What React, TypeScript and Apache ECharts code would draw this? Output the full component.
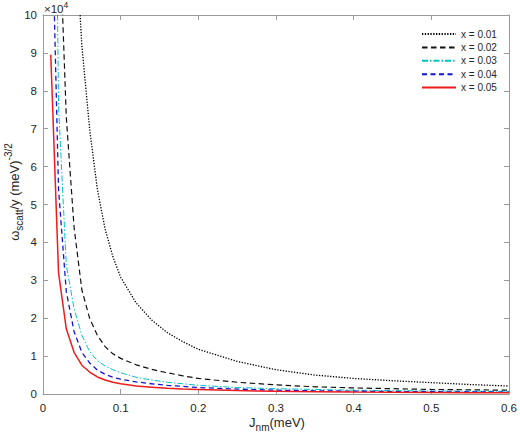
import React, { useEffect, useRef } from "react";
import * as echarts from "echarts";

// J_nm values (meV) at which the curves were read
const jValues = [0.01, 0.02, 0.03, 0.04, 0.05, 0.06, 0.07, 0.08, 0.09, 0.1, 0.12, 0.14, 0.16, 0.18, 0.2, 0.25, 0.3, 0.35, 0.4, 0.45, 0.5, 0.55, 0.6];

// omega_scatt / y in units of 1e4 (meV)^-3/2 ; null = not drawn (far above the plot)
const omegaX001 = [null, null, null, 12.8, 9.2, 7.0, 5.4, 4.35, 3.62, 3.08, 2.4, 1.95, 1.62, 1.38, 1.18, 0.86, 0.64, 0.5, 0.41, 0.35, 0.3, 0.25, 0.21];
const omegaX002 = [null, 13.0, 7.3, 4.4, 2.75, 2.0, 1.55, 1.25, 1.06, 0.94, 0.77, 0.65, 0.56, 0.48, 0.41, 0.31, 0.24, 0.19, 0.16, 0.14, 0.12, 0.11, 0.1];
const omegaX003 = [26.7, 7.6, 3.4, 2.25, 1.55, 1.12, 0.88, 0.74, 0.64, 0.56, 0.44, 0.37, 0.31, 0.27, 0.23, 0.17, 0.14, 0.12, 0.1, 0.09, 0.08, 0.075, 0.07];
const omegaX004 = [14.0, 5.4, 2.7, 1.65, 1.1, 0.82, 0.63, 0.52, 0.44, 0.39, 0.32, 0.27, 0.23, 0.2, 0.17, 0.13, 0.1, 0.085, 0.075, 0.065, 0.06, 0.055, 0.05];
const omegaX005 = [8.95, 3.2, 1.72, 1.1, 0.76, 0.58, 0.45, 0.37, 0.31, 0.27, 0.21, 0.18, 0.15, 0.13, 0.12, 0.09, 0.07, 0.06, 0.05, 0.045, 0.04, 0.035, 0.03];

const legendNames = ["x = 0.01", "x = 0.02", "x = 0.03", "x = 0.04", "x = 0.05"];
const xTickLabels = ["0", "0.1", "0.2", "0.3", "0.4", "0.5", "0.6"];
const yTickLabels = ["0", "1", "2", "3", "4", "5", "6", "7", "8", "9", "10"];

const FONT = "'Liberation Sans', Arial, Helvetica, sans-serif";
const AXIS_COLOR = "#9a9a9a";
const TEXT_COLOR = "#262626";

function toPairs(vals: (number | null)[]) {
  const out: [number, number][] = [];
  jValues.forEach((j, i) => {
    const v = vals[i];
    if (v != null) out.push([j, v]);
  });
  return out;
}

export default function App() {
  const ref = useRef<HTMLDivElement>(null);

  useEffect(() => {
    if (!ref.current) return;
    const chart = echarts.init(ref.current, undefined, { renderer: "svg" });

    const canvas = document.createElement("canvas");
    const ctx = canvas.getContext("2d")!;
    const tw = (t: string, size: number) => {
      ctx.font = `${size}px ${FONT}`;
      return ctx.measureText(t).width;
    };

    const MAIN = 13;
    const SUB = 10;

    const yPieces = [
      { t: "\u03c9", s: MAIN, dy: 0 },
      { t: "scatt", s: SUB, dy: 5 },
      { t: "/y (meV)", s: MAIN, dy: 0 },
      { t: "-3/2", s: SUB, dy: -6 },
    ];
    const yTotal = yPieces.reduce((a, p) => a + tw(p.t, p.s), 0);
    let cx = -yTotal / 2;
    const yChildren = yPieces.map((p) => {
      const el = {
        type: "text",
        x: cx,
        y: p.dy,
        style: { text: p.t, font: `${p.s}px ${FONT}`, fill: TEXT_COLOR, align: "left", verticalAlign: "middle" },
      };
      cx += tw(p.t, p.s);
      return el;
    });

    const xPieces = [
      { t: "J", s: MAIN, dy: 0 },
      { t: "nm", s: SUB, dy: 5.5 },
      { t: "(meV)", s: MAIN, dy: 0 },
    ];
    const xTotal = xPieces.reduce((a, p) => a + tw(p.t, p.s), 0);
    let cx2 = -xTotal / 2;
    const xChildren = xPieces.map((p) => {
      const el = {
        type: "text",
        x: cx2,
        y: p.dy,
        style: { text: p.t, font: `${p.s}px ${FONT}`, fill: TEXT_COLOR, align: "left", verticalAlign: "middle" },
      };
      cx2 += tw(p.t, p.s);
      return el;
    });

    const mulW = tw("\u00d710", 11.5);

    const lineDefs = [
      { name: legendNames[0], data: omegaX001, color: "#000000", width: 1.3, type: [1.3, 1.5] as any },
      { name: legendNames[1], data: omegaX002, color: "#111111", width: 1.2, type: [5.5, 3.5] as any },
      { name: legendNames[2], data: omegaX003, color: "#00c4c4", width: 1, type: [6, 2, 1.5, 2] as any },
      { name: legendNames[3], data: omegaX004, color: "#1414d2", width: 1.3, type: [5, 3.5] as any },
      { name: legendNames[4], data: omegaX005, color: "#ee1c1c", width: 1.5, type: "solid" as any },
    ];

    const commonX = {
      type: "value",
      min: 0,
      max: 0.6,
      interval: 0.1,
      splitLine: { show: false },
    };
    const commonY = {
      type: "value",
      min: 0,
      max: 10,
      interval: 1,
      splitLine: { show: false },
    };

    chart.setOption({
      animation: false,
      backgroundColor: "#ffffff",
      grid: { left: 43, top: 15, width: 469, height: 379, containLabel: false },
      legend: {
        orient: "vertical",
        left: 421,
        top: 29,
        padding: 0,
        itemWidth: 34,
        itemHeight: 10,
        itemGap: 3.4,
        data: legendNames,
        itemStyle: { opacity: 0, borderWidth: 0 },
        textStyle: { fontFamily: FONT, fontSize: 10, color: TEXT_COLOR },
        selectedMode: false,
      },
      xAxis: [
        {
          ...commonX,
          position: "bottom",
          axisLine: { show: true, lineStyle: { color: AXIS_COLOR, width: 1 } },
          axisTick: { show: true, inside: true, length: 5, lineStyle: { color: AXIS_COLOR } },
          axisLabel: {
            show: true,
            margin: 8,
            fontFamily: FONT,
            fontSize: 11.5,
            color: TEXT_COLOR,
            formatter: (v: number) => xTickLabels[Math.round(v * 10)] ?? "",
          },
        },
        {
          ...commonX,
          position: "top",
          axisLine: { show: true, onZero: false, lineStyle: { color: AXIS_COLOR, width: 1 } },
          axisTick: { show: true, inside: true, length: 5, lineStyle: { color: AXIS_COLOR } },
          axisLabel: { show: false },
        },
      ],
      yAxis: [
        {
          ...commonY,
          position: "left",
          axisLine: { show: true, lineStyle: { color: AXIS_COLOR, width: 1 } },
          axisTick: { show: true, inside: true, length: 5, lineStyle: { color: AXIS_COLOR } },
          axisLabel: {
            show: true,
            margin: 6,
            fontFamily: FONT,
            fontSize: 11.5,
            color: TEXT_COLOR,
            formatter: (v: number) => yTickLabels[Math.round(v)] ?? "",
          },
        },
        {
          ...commonY,
          position: "right",
          axisLine: { show: true, onZero: false, lineStyle: { color: AXIS_COLOR, width: 1 } },
          axisTick: { show: true, inside: true, length: 5, lineStyle: { color: AXIS_COLOR } },
          axisLabel: { show: false },
        },
      ],
      series: lineDefs.map((d) => ({
        type: "line",
        name: d.name,
        xAxisIndex: 0,
        yAxisIndex: 0,
        data: toPairs(d.data),
        symbol: "none",
        showSymbol: false,
        clip: true,
        silent: true,
        smooth: false,
        lineStyle: { color: d.color, width: d.width, type: d.type },
        itemStyle: { color: d.color },
        emphasis: { disabled: true },
      })),
      graphic: [
        {
          type: "group",
          x: 14,
          y: 192,
          rotation: Math.PI / 2,
          children: yChildren,
        },
        {
          type: "group",
          x: 277,
          y: 422,
          children: xChildren,
        },
        {
          type: "text",
          x: 44,
          y: 9,
          style: { text: "\u00d710", font: `11.5px ${FONT}`, fill: TEXT_COLOR, align: "left", verticalAlign: "middle" },
        },
        {
          type: "text",
          x: 44 + mulW,
          y: 4.5,
          style: { text: "4", font: `8.5px ${FONT}`, fill: TEXT_COLOR, align: "left", verticalAlign: "middle" },
        },
      ],
    });

    return () => {
      chart.dispose();
    };
  }, []);

  return (
    <div
      ref={ref}
      style={{ position: "absolute", left: 0, top: 0, width: 520, height: 433, background: "#fff" }}
    />
  );
}
